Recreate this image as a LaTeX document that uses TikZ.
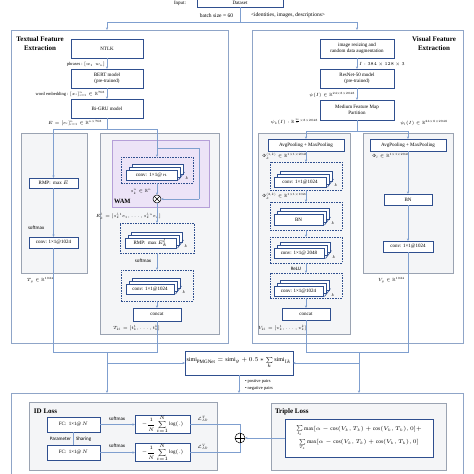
\RequirePackage{fix-cm}
\documentclass[tikz,border=0pt]{standalone}
\usepackage{amsmath,amssymb}
\usepackage{fontspec}
\setmainfont{Liberation Serif}
\newfontfamily\sansf{Carlito}
\usetikzlibrary{arrows.meta,calc}
\definecolor{bxc}{HTML}{2F4F8F}
\definecolor{lnc}{HTML}{7F9FCF}
\definecolor{frc}{HTML}{8FA5C8}
\definecolor{pnl}{HTML}{F4F5F7}
\definecolor{pnb}{HTML}{9AA3B2}
\definecolor{wamf}{HTML}{ECE3F7}
\definecolor{wamd}{HTML}{B59FD8}
\newcommand\bxat[7]{\node[#1,minimum width={(#5)-(#3)},minimum height={(#6)-(#4)}] (#2) at ({((#3)+(#5))/2},{((#4)+(#6))/2}) {#7};}
\newcommand\stk[6]{%
 \node[bx,minimum width=#4,minimum height=#5] (#1-c) at ({#2+6},{#3-6}) {};
 \node[bx,minimum width=#4,minimum height=#5] (#1-b) at ({#2+3},{#3-3}) {};
 \node[bx,minimum width=#4,minimum height=#5] (#1) at (#2,#3) {#6};
 \draw[draw=bxc,line width=0.6pt] ({#2+#4/2+1.5},{#3+#5/2}) -- ++(6,-8);
 \node[font=\fontsize{4}{4}\selectfont] (#1-k) at ({#2+#4/2+10},{#3+#5/2-1.5}) {$k$};
}
\begin{document}
\begin{tikzpicture}[x=1pt,y=-1pt,
  every node/.style={font=\fontsize{5}{6}\selectfont, inner sep=0pt, outer sep=0pt},
  bx/.style={draw=bxc, line width=1pt, fill=white, align=center},
  dbx/.style={draw=bxc, line width=0.7pt, dash pattern=on 1.6pt off 1pt},
  outerfr/.style={draw=frc, line width=0.7pt},
  panel/.style={draw=pnb, line width=0.6pt, fill=pnl},
  wam/.style={draw=wamd, fill=wamf, line width=0.8pt},
  ln/.style={draw=lnc, line width=0.6pt},
  arr/.style={ln, -{Stealth[length=2.6pt,width=2.2pt]}},
  ttl/.style={font=\fontsize{7}{9}\selectfont\bfseries, align=center},
  sm/.style={font=\fontsize{5}{6}\selectfont\sansf},
  lbl/.style={font=\fontsize{4.5}{5.5}\selectfont}
]
\useasboundingbox (0,0) rectangle (474,474);
\fill[white] (0,0) rectangle (474,474);

% ---------- frames and panels ----------
\bxat{outerfr}{tfr}{11}{30}{228}{343}{}
\bxat{outerfr}{vfr}{252}{30}{463}{343}{}
\bxat{outerfr}{lfr}{11}{393}{463}{482}{}
\bxat{panel}{tgp}{21}{133}{87}{273}{}
\bxat{panel}{tlp}{100}{133}{219}{334}{}
\bxat{panel}{vlp}{258}{133}{350}{334}{}
\bxat{panel}{vgp}{363}{133}{453}{273}{}
\bxat{panel}{idp}{29}{402}{217}{470}{}
\bxat{panel}{trp}{271}{403}{446}{470}{}
\bxat{wam}{wambox}{112}{140}{209}{207}{}

% ---------- titles ----------
\node[ttl] (tft) at (40,43.5) {Textual Feature\\Extraction};
\node[ttl] (vft) at (434,43.5) {Visual Feature\\Extraction};
\node[ttl,anchor=west] (idt) at (34,411) {ID Loss};
\node[ttl,anchor=west] (trt) at (275,412) {Triple Loss};
\node[font=\fontsize{6.5}{7}\selectfont\bfseries,anchor=west] (wamt) at (114,201) {WAM};

% ---------- header ----------
\bxat{bx}{ds}{197}{-14}{283}{7}{}
\node (dst) at (240,3) {Dataset};
\node (inp) at (180,3.5) {Input:};
\coordinate (hs) at (240,22);
\node[anchor=east,font=\fontsize{5.5}{6}\selectfont] (bs) at (233,15.5) {batch size = 60};
\node[anchor=west,font=\fontsize{5.5}{6}\selectfont] (idd) at (251,15.5) {\textless identities, images, descriptions\textgreater};
\draw[ln] (ds.south) -- (hs);

% ---------- textual branch ----------
\bxat{bx}{ntlk}{71}{39}{143}{58}{NTLK}
\bxat{bx}{bert}{71}{69}{143}{88}{BERT model\\(pre-trained)}
\bxat{bx}{bigru}{71}{99}{143}{118}{Bi-GRU model}
\draw[arr] (hs) -| (ntlk.north |- tfr.north);
\draw[arr] (ntlk) -- (bert);
\draw[arr] (bert) -- (bigru);
\node[lbl,anchor=east] (phr) at (105,64) {phrases : $[w_1\ \ w_n]$};
\node[lbl,anchor=east] (wem) at (105,94) {word embedding : $[x_i]_{i=1}^{n}\in\mathbb{R}^{768}$};
\node[lbl,anchor=east] (elb) at (102,123) {$E=[e_i]_{i=1}^{n}\in\mathbb{R}^{n\times768}$};
\coordinate (ts) at (107,129);
\draw[ln] (bigru) -- (ts);

% left (global) column
\bxat{bx}{rmp}{29}{178}{78}{188}{RMP:\ \ max $E$}
\node[sm,anchor=west] (smx1) at (28,228) {softmax};
\bxat{bx}{convg}{29}{237}{78}{248}{conv: 1×1@1024}
\draw[arr] (ts) -| (rmp);
\draw[arr] (rmp) -- (convg);
\node[lbl,anchor=west] (tgl) at (27,280) {$T_g\in\mathbb{R}^{1024}$};

% right (local) column
\bxat{dbx}{d1}{121}{157}{193}{183}{}
\stk{sn}{151.5}{175}{51}{10}{conv:\ \ 1×1@\,$n$}
\node[circle,draw=black,line width=0.5pt,minimum size=8,fill=white] (ot) at (157,199) {};
\draw[line width=0.5pt] (ot.north east) -- (ot.south west) (ot.north west) -- (ot.south east);
\draw[arr] (ts) -| (d1);
\coordinate (byp) at (157,148);
\coordinate (byc) at (199,199);
\draw[ln] (byp) -| (byc);
\draw[arr] (byc) -- (ot);
\draw[arr] (d1) -- (ot);
\node[lbl] (skl) at (141,192) {$s_k^{n}\in\mathbb{R}^{n}$};
\node[lbl] (ekl) at (128.5,216) {$E_k^{l}=[s_k^{l,1}e_1,\ldots,s_k^{l,n}e_n]$};
\bxat{dbx}{d2}{120}{223}{194}{253}{}
\stk{sr}{150.5}{243}{51}{10}{RMP:\ \ max $E_k^{l}$}
\draw[arr] (ot) -- (d2);
\node[sm] (smx2) at (143,261) {softmax};
\bxat{dbx}{d3}{121}{270}{193}{301}{}
\stk{sc}{150}{289}{48}{10}{conv: 1×1@1024}
\draw[arr] (d2) -- (d3);
\bxat{bx}{cct}{133}{308}{181}{321}{concat}
\draw[arr] (d3) -- (cct);
\node[lbl,anchor=west] (tkl) at (113,328) {$T_{kl}=[t_k^{1},\ldots,t_k^{k}]$};

% ---------- visual branch ----------
\bxat{bx}{imr}{320}{39}{394}{58}{image resizing and\\random data augmentation}
\bxat{bx}{rsn}{320}{69}{394}{88}{ResNet-50 model\\(pre-trained)}
\bxat{bx}{mfp}{320}{100}{394}{120}{Medium Feature Map\\Partition}
\draw[arr] (hs) -| (imr.north |- vfr.north);
\draw[arr] (imr) -- (rsn);
\draw[arr] (rsn) -- (mfp);
\node[lbl,anchor=west] (il) at (359,64) {$I:384\times128\times3$};
\node[lbl,anchor=east] (psl) at (355,95) {$\psi(I)\in\mathbb{R}^{24\times8\times2048}$};
\node[lbl,anchor=east] (pskl) at (318,122) {$\psi_k(I):\mathbb{R}^{\frac{24}{k}\times8\times2048}$};
\node[lbl,anchor=west] (psgl) at (400,123) {$\psi_l(I)\in\mathbb{R}^{24\times8\times2048}$};
\coordinate (vs) at (357,131);
\draw[ln] (mfp) -- (vs);

% left (local) column
\bxat{bx}{avgl}{268}{139}{344}{151}{AvgPooling + MaxPooling}
\draw[arr] (vs) -| (avgl);
\node[lbl,anchor=west] (phi1) at (262,156) {$\Phi_k^{(1,k)}\in\mathbb{R}^{1\times1\times2048}$};
\bxat{dbx}{dv1}{270}{162}{342}{190}{}
\stk{v1}{300}{182}{52}{10}{conv: 1×1@1024}
\node[lbl,anchor=west] (phi2) at (262,196) {$\Phi_k^{(2,k)}\in\mathbb{R}^{1\times1\times1024}$};
\bxat{dbx}{dv2}{270}{202}{342}{230}{}
\stk{v2}{298.5}{219.5}{49}{11}{BN}
\bxat{dbx}{dv3}{270}{237}{342}{263}{}
\stk{v3}{299}{253.5}{50}{10}{conv: 1×1@ 2048}
\node[sm] (relu) at (296,269) {ReLU};
\bxat{dbx}{dv4}{270}{273}{342}{298}{}
\stk{v4}{298.5}{291.5}{49}{10}{conv: 1×1@1024}
\bxat{bx}{ccv}{282}{308}{330}{320}{concat}
\draw[arr] (avgl) -- (dv1);
\draw[arr] (dv1) -- (dv2);
\draw[arr] (dv2) -- (dv3);
\draw[arr] (dv3) -- (dv4);
\draw[arr] (dv4) -- (ccv);
\node[lbl,anchor=west] (vkl) at (258,328) {$V_{kl}=[v_k^{1},\ldots,v_k^{k}]$};

% right (global) column
\bxat{bx}{avgr}{370}{139}{446}{151}{AvgPooling + MaxPooling}
\draw[arr] (vs) -| (avgr);
\node[lbl,anchor=west] (phil) at (372,156) {$\Phi_l\in\mathbb{R}^{1\times1\times2048}$};
\bxat{bx}{bnr}{384}{194}{432}{205}{BN}
\bxat{bx}{convr}{383}{241}{433}{252}{conv: 1×1@1024}
\draw[arr] (avgr) -- (bnr);
\draw[arr] (bnr) -- (convr);
\node[lbl,anchor=west] (vgl) at (378,280) {$V_g\in\mathbb{R}^{1024}$};

% ---------- similarity ----------
\bxat{bx}{simi}{185}{351}{293}{375}{\fontsize{6}{7}\selectfont$\mathrm{simi}_{\mathrm{PMGNet}}=\mathrm{simi}_g+0.5*\sum\limits_{k}\mathrm{simi}_{lk}$}
\coordinate (tj) at (107,352);
\coordinate (tk) at (107,363);
\coordinate (vj) at (359,352);
\coordinate (vk) at (359,363);
\draw[ln] (convg) |- (tj);
\draw[ln] (cct) |- (tj);
\draw[arr] (tj) -- (tj |- lfr.north);
\draw[arr] (tk) -- (tk -| simi.west);
\draw[ln] (ccv) |- (vj);
\draw[ln] (convr) |- (vj);
\draw[arr] (vj) -- (vj |- lfr.north);
\draw[arr] (vk) -- (vk -| simi.east);
\draw[arr] (simi) -- (simi.south |- lfr.north);
\node[lbl,anchor=west,align=left,font=\fontsize{4.5}{7}\selectfont] (pp) at (245,384.5) {• postive pairs\\• negative pairs};

% ---------- losses ----------
\bxat{bx}{fc1}{47}{417}{100}{432}{FC:\ \ 1×1@\,$N$}
\bxat{bx}{fc2}{47}{445}{100}{460}{FC:\ \ 1×1@\,$N$}
\draw[ln] (fc1) -- (fc2);
\node[sm,anchor=east] (par) at (71,439) {Parameter};
\node[sm,anchor=west] (shr) at (76,439) {Sharing};
\bxat{bx}{l1}{135}{417}{190}{432}{\fontsize{5}{5}\selectfont$-\dfrac{1}{N}\displaystyle\sum_{i=1}^{N}\log(.)$}
\bxat{bx}{l2}{135}{445}{190}{460}{\fontsize{5}{5}\selectfont$-\dfrac{1}{N}\displaystyle\sum_{i=1}^{N}\log(.)$}
\node[sm] (sm3) at (117,419) {softmax};
\node[sm] (sm4) at (117,446) {softmax};
\draw[arr] (fc1) -- (l1);
\draw[arr] (fc2) -- (l2);
\node[lbl] (lt) at (203,419) {$\mathcal{L}_{ID}^{T}$};
\node[lbl] (lv) at (203,447) {$\mathcal{L}_{ID}^{V}$};
\node[circle,draw=black,line width=0.5pt,minimum size=10,fill=white] (pl) at (240,438) {};
\draw[line width=0.5pt] (pl.north) -- (pl.south) (pl.west) -- (pl.east);
\draw[ln] (l1) -| (pl);
\draw[ln] (l2) -| (pl);
\bxat{bx}{tf}{285}{419}{433}{457}{\fontsize{5.5}{9}\selectfont$\sum\limits_{I_k}\max[\alpha-\cos(V_k,T_k)+\cos(V_k,T_k),0]+$\\[2pt]\fontsize{5.5}{9}\selectfont$\sum\limits_{T_k}\max[\alpha-\cos(V_k,T_k)+\cos(V_k,T_k),0]$}
\draw[arr] (tf) -- (pl);
\end{tikzpicture}
\end{document}
